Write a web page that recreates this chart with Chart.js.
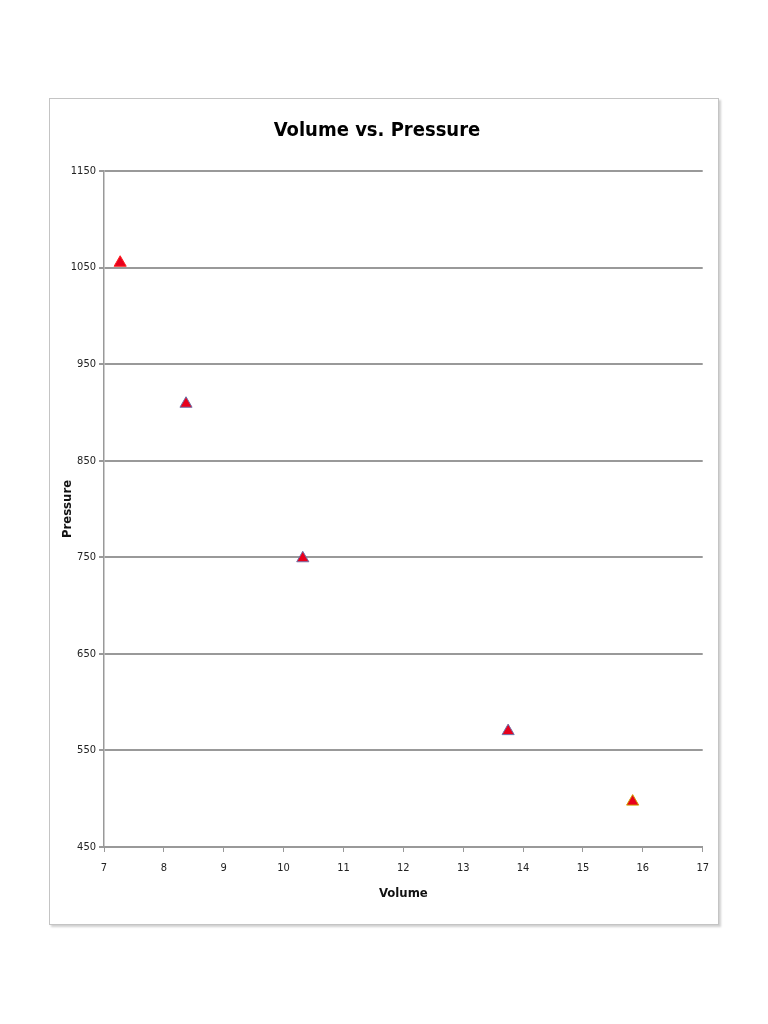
<!DOCTYPE html>
<html>
<head>
<meta charset="utf-8">
<script src="https://cdn.jsdelivr.net/npm/chart.js@4.4.0/dist/chart.umd.min.js"></script>
<style>
  html, body { margin: 0; padding: 0; background: #fff; width: 768px; height: 1024px; overflow: hidden; }
  #frame { position: absolute; left: 49px; top: 98px; width: 670px; height: 827px; box-sizing: border-box;
           border: 1px solid #c4c4c4; box-shadow: 2px 2px 2px #d0d0d0; background: #fff; }
  #c { position: absolute; left: 49px; top: 98px; }
</style>
</head>
<body>
<div id="frame"></div>
<canvas id="c" width="670" height="827" style="width:670px;height:827px"></canvas>
<script>
const chartTitle = "Volume vs. Pressure";
const xTitle = "Volume";
const yTitle = "Pressure";
const volume = [7.27, 8.37, 10.32, 13.75, 15.83];
const pressure = [1055, 909, 749, 570, 497];
const pointBorders = ['#ff2020', '#7070a8', '#7070a8', '#7070a8', '#d0a000'];

const font = "'DejaVu Sans Condensed', 'Liberation Sans Narrow', 'Liberation Sans', sans-serif";

new Chart(document.getElementById('c'), {
  type: 'scatter',
  data: {
    datasets: [{
      data: volume.map((v, i) => ({ x: v, y: pressure[i] })),
      pointStyle: 'triangle',
      pointRadius: 7,
      pointHoverRadius: 7,
      backgroundColor: '#e8001c',
      borderColor: pointBorders,
      borderWidth: 1
    }]
  },
  options: {
    responsive: false,
    animation: false,
    devicePixelRatio: 1,
    layout: { padding: { left: 0, right: 14, top: 21, bottom: 0 } },
    plugins: {
      legend: { display: false },
      tooltip: { enabled: false },
      title: {
        display: true,
        text: chartTitle,
        color: '#000',
        font: { family: font, size: 20, weight: 'bold', lineHeight: 1.2 },
        padding: { top: 0, bottom: 28 }
      }
    },
    scales: {
      x: {
        type: 'linear',
        min: 7, max: 17,
        ticks: { stepSize: 1, color: '#222', font: { family: font, size: 11 }, padding: 10 },
        grid: { drawOnChartArea: false, drawTicks: true, tickLength: 5, color: '#999', lineWidth: 1 },
        border: { display: true, color: '#999', width: 2 },
        title: { display: true, text: xTitle, color: '#111', font: { family: font, size: 13, weight: 'bold' }, padding: { top: 4, bottom: 24 } },
        afterFit: s => { s.height = 78; }
      },
      y: {
        type: 'linear',
        min: 450, max: 1150,
        ticks: { stepSize: 100, color: '#222', font: { family: font, size: 11 }, padding: 3,
                 callback: v => String(v) },
        grid: { drawOnChartArea: true, drawTicks: true, tickLength: 5, color: '#999', lineWidth: 2 },
        border: { display: true, color: '#999', width: 1.5 },
        title: { display: true, text: yTitle, color: '#111', font: { family: font, size: 13, weight: 'bold' }, padding: { top: 11, bottom: 4 } },
        afterFit: s => { s.width = 55; }
      }
    }
  }
});
</script>
</body>
</html>
